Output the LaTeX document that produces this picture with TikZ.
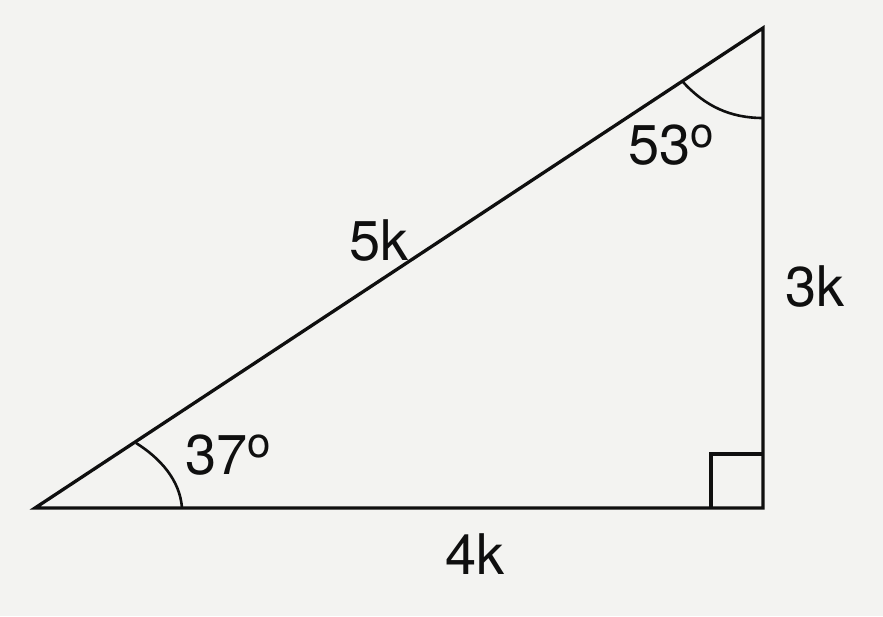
\documentclass[tikz,border=0pt]{standalone}
\usepackage{fontspec}
\setmainfont{TeX Gyre Heros}
\definecolor{paper}{RGB}{243,243,241}
\definecolor{ink}{RGB}{15,15,15}
\newcommand\degsign{\raisebox{0.31em}{\fontsize{42}{42}\selectfont o}}
\begin{document}
\begin{tikzpicture}[x=1pt,y=-1pt,
  edge/.style={draw=ink,line width=3.3pt},
  anglemark/.style={draw=ink,line width=2.6pt},
  lbl/.style={text=ink,inner sep=0pt,font=\fontsize{56}{56}\selectfont}]
\fill[paper] (0,0) rectangle (883,616);
\useasboundingbox (0,0) rectangle (883,616);
\coordinate (A) at (35,508);
\coordinate (B) at (763,508);
\coordinate (C) at (763,28);
% right angle square
\draw[anglemark,line width=3.6pt] (711,508) -- (711,454) -- (763,454);
% angle arcs
\draw[anglemark] (136,443) .. controls (160,458) and (180,480) .. (182,508);
\draw[anglemark] (683,82) .. controls (705,106) and (730,118) .. (763,118);
% triangle
\draw[edge,line join=miter] (A) -- (B) -- (C) -- cycle;
% labels
\node[lbl] (a53) at (671,145) {53\degsign};
\node[lbl] (h) at (379,241) {5k};
\node[lbl] (v) at (815,287) {3k};
\node[lbl] (a37) at (228,455) {37\degsign};
\node[lbl] (b) at (475,554) {4k};
\end{tikzpicture}
\end{document}
